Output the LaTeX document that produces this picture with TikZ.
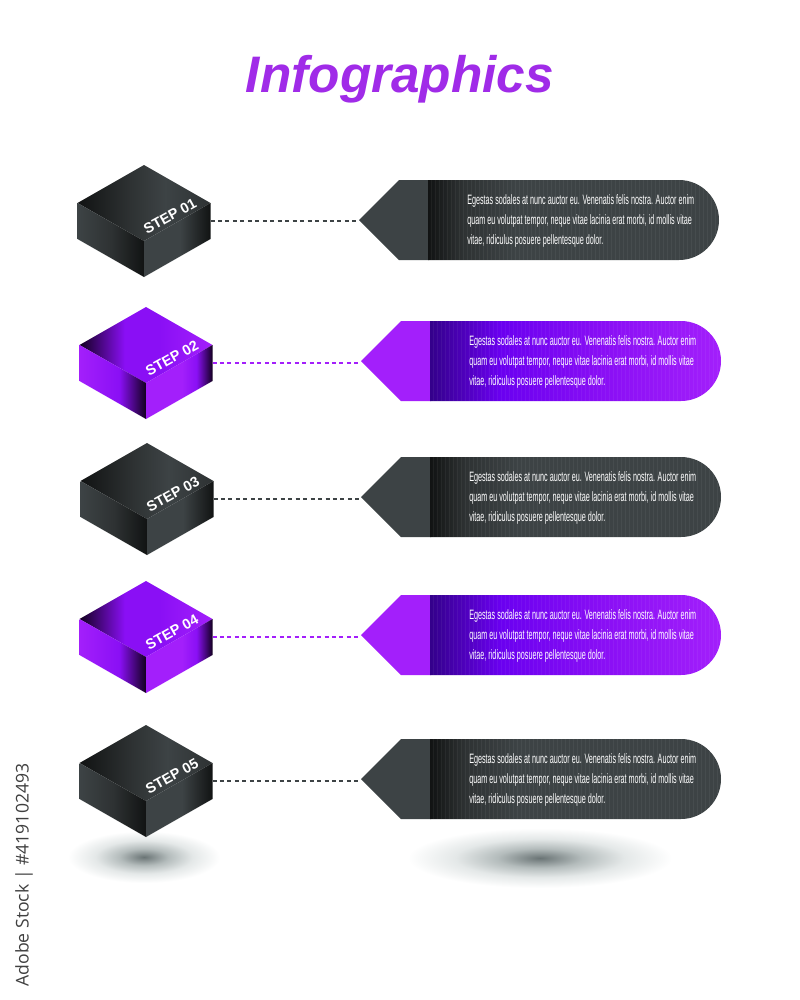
\documentclass[tikz,border=0pt]{standalone}
\usepackage{fontspec}
\setmainfont{Liberation Sans}
\newfontfamily\narrowf[FakeStretch=0.53]{Liberation Sans}
\newfontfamily\sidef{Open Sans}
\definecolor{gr}{HTML}{3D4345}
\definecolor{grd}{HTML}{111313}
\definecolor{grm}{HTML}{2E3233}
\definecolor{pu}{HTML}{A31FFB}
\definecolor{pum}{HTML}{8A0FF5}
\definecolor{pud}{HTML}{12001F}
\definecolor{puv}{HTML}{6A00F0}
\definecolor{pui}{HTML}{33008A}
\definecolor{ti}{HTML}{A02BE8}
\definecolor{sh}{HTML}{6A7475}
\definecolor{shb}{HTML}{B4BCBC}
\definecolor{shc}{HTML}{E4E8E8}
\pgfdeclarehorizontalshading{dtop}{100bp}{color(0bp)=(grd);color(25bp)=(grd);color(45bp)=(grm);color(58bp)=(gr);color(75bp)=(grm);color(100bp)=(grm)}
\pgfdeclarehorizontalshading{dleft}{100bp}{color(0bp)=(gr);color(25bp)=(gr);color(50bp)=(grm);color(75bp)=(grd);color(100bp)=(grd)}
\pgfdeclarehorizontalshading{dright}{100bp}{color(0bp)=(gr);color(25bp)=(gr);color(52bp)=(gr);color(75bp)=(grd);color(100bp)=(grd)}
\pgfdeclarehorizontalshading{ptop}{100bp}{color(0bp)=(pud);color(25bp)=(pud);color(42bp)=(pum);color(55bp)=(pum);color(75bp)=(pu);color(100bp)=(pu)}
\pgfdeclarehorizontalshading{pleft}{100bp}{color(0bp)=(pu);color(25bp)=(pu);color(55bp)=(pum);color(75bp)=(pud);color(100bp)=(pud)}
\pgfdeclarehorizontalshading{pright}{100bp}{color(0bp)=(pu);color(25bp)=(pu);color(52bp)=(pu);color(63bp)=(pum);color(75bp)=(pud);color(100bp)=(pud)}
\pgfdeclarehorizontalshading{dtag}{100bp}{color(0bp)=(grd);color(25bp)=(grd);color(31bp)=(grm);color(40bp)=(gr);color(100bp)=(gr)}
\pgfdeclarehorizontalshading{ptag}{100bp}{color(0bp)=(pui);color(25bp)=(pui);color(37bp)=(puv);color(55bp)=(pum);color(75bp)=(pu);color(100bp)=(pu)}
\pgfdeclareradialshading{shadowball}{\pgfpointorigin}{color(0bp)=(sh);color(8bp)=(shb);color(16bp)=(shc);color(25bp)=(white);color(50bp)=(white)}
\tikzset{
  steplabel/.style={text=white,font=\bfseries\fontsize{10.8pt}{12pt}\selectfont,rotate=29,inner sep=0pt},
  bodytext/.style={text=white,font=\narrowf\fontsize{10.2pt}{15pt}\selectfont,align=left,anchor=north west,inner sep=0pt},
  link/.style={line width=1.1pt,dash pattern=on 3pt off 2.6pt},
}
% #1 name, #2 x of top corner, #3 y of top corner, #4 d or p, #5 label
\newcommand{\isoblock}[5]{
  \begin{scope}[shift={(#2,#3)}]
    \shade[shading=#4top] (0,0) -- (66.5,38) -- (0,76) -- (-66.5,38) -- cycle;
    \shade[shading=#4left] (-66.5,38) -- (0,76) -- (0,112) -- (-66.5,74) -- cycle;
    \shade[shading=#4right] (0,76) -- (66.5,38) -- (66.5,74) -- (0,112) -- cycle;
    \node[steplabel] (#1label) at (26,51) {#5};
    \coordinate (#1port) at (66.5,56);
  \end{scope}
}
% #1 name, #2 tip x, #3 tip y, #4 d or p, #5 solid colour
\newcommand{\tagshape}[5]{
  \begin{scope}[shift={(#2,#3)}]
    \coordinate (#1tip) at (0,0);
    \fill[#5] (0,0) -- (40,-40) -- (70,-40) -- (70,40) -- (40,40) -- cycle;
    \shade[shading=#4tag] (69,-40) -- (320,-40) arc[start angle=-90,end angle=90,radius=40] -- (69,40) -- cycle;
    \begin{scope}
      \clip (69,-40) -- (320,-40) arc[start angle=-90,end angle=90,radius=40] -- (69,40) -- cycle;
      \foreach \sx in {72,76,...,360} {\draw[white,opacity=.05,line width=.6pt] (\sx,-40) -- (\sx,40);}
    \end{scope}
    \node[bodytext] (#1text) at (108,-25.5) {Egestas sodales at nunc auctor eu. Venenatis felis nostra. Auctor enim\\quam eu volutpat tempor, neque vitae lacinia erat morbi, id mollis vitae\\vitae, ridiculus posuere pellentesque dolor.};
  \end{scope}
}
\begin{document}
\begin{tikzpicture}[x=.75pt,y=-.75pt]
\useasboundingbox (0,0) rectangle (800,1000);
\fill[white] (0,0) rectangle (800,1000);
\shade[shading=shadowball] (144,857) ellipse [x radius=76,y radius=26];
\shade[shading=shadowball] (540,858) ellipse [x radius=132,y radius=30];
\node[text=ti,font=\bfseries\itshape\fontsize{38.5pt}{40pt}\selectfont,inner sep=0pt] (title) at (400,79) {Infographics};
\isoblock{b1}{144}{165}{d}{STEP 01}
\isoblock{b2}{146}{307}{p}{STEP 02}
\isoblock{b3}{147}{443}{d}{STEP 03}
\isoblock{b4}{146}{581}{p}{STEP 04}
\isoblock{b5}{146}{725}{d}{STEP 05}
\tagshape{t1}{359}{220}{d}{gr}
\tagshape{t2}{361}{361}{p}{pu}
\tagshape{t3}{361}{497}{d}{gr}
\tagshape{t4}{361}{635}{p}{pu}
\tagshape{t5}{361}{779}{d}{gr}
\draw[link,gr] (b1port) -- (b1port -| t1tip);
\draw[link,pu] (b2port) -- (b2port -| t2tip);
\draw[link,gr] (b3port) -- (b3port -| t3tip);
\draw[link,pu] (b4port) -- (b4port -| t4tip);
\draw[link,gr] (b5port) -- (b5port -| t5tip);
\node[rotate=90,text=black!75,font=\sidef\fontsize{13.2pt}{14pt}\selectfont,inner sep=0pt] (side) at (24,875) {Adobe Stock | \#419102493};
\end{tikzpicture}
\end{document}
